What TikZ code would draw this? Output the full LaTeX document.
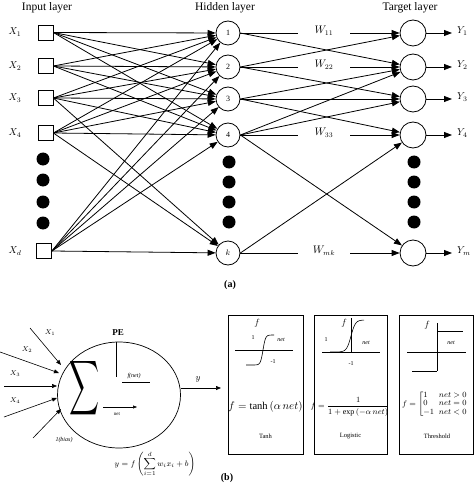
\documentclass[tikz,border=0pt]{standalone}
\usepackage{fontspec}
\setmainfont{Liberation Serif}
\usepackage{amsmath}
\usetikzlibrary{arrows.meta,shapes.geometric}
\begin{document}
\begin{tikzpicture}[x=1pt,y=-1pt,
  inbox/.style={draw, line width=0.8pt, minimum size=15pt, inner sep=0},
  hid/.style={draw, circle, line width=0.8pt, minimum size=24pt, inner sep=0, font=\fontsize{8}{8}\selectfont},
  tgt/.style={draw, circle, line width=0.8pt, minimum size=26pt, inner sep=0},
  conn/.style={line width=0.8pt, -{Triangle[length=8pt,width=6pt]}},
  sconn/.style={line width=0.6pt, -{Triangle[length=5pt,width=4pt]}},
  plain/.style={line width=0.8pt},
  title/.style={font=\fontsize{11.5}{12}\selectfont},
  wlab/.style={minimum width=52pt, inner sep=0, font=\fontsize{10.5}{10.5}\selectfont},
  dot/.style={fill=black},
  fbox/.style={draw, line width=0.9pt, minimum height=139pt, inner sep=0},
]
\useasboundingbox (0,0) rectangle (474,489);

% ---------- (a) ----------
\node[title] (tin) at (47,8) {Input layer};
\node[title] (thid) at (225,8) {Hidden layer};
\node[title] (ttgt) at (410,8) {Target layer};

\node[inbox] (x1) at (45.5,32.5) {};
\node[inbox] (x2) at (45.5,66) {};
\node[inbox] (x3) at (45.5,98) {};
\node[inbox] (x4) at (45.5,133) {};
\node[inbox] (xd) at (44,251) {};
\node (lx1) at (15,32) {$X_1$};
\node (lx2) at (15,66) {$X_2$};
\node (lx3) at (15,98) {$X_3$};
\node (lx4) at (15,133) {$X_4$};
\node (lxd) at (15,251) {$X_d$};

\foreach \yy in {159,180,202,223} \fill[dot] (43,\yy) ellipse (6.5 and 6.5);
\foreach \yy in {162,182,202,222} \fill[dot] (229,\yy) ellipse (6.5 and 6.5);
\foreach \yy in {162,182,202,222} \fill[dot] (414,\yy) ellipse (6.5 and 6.5);

\node[hid] (h1) at (228,33) {1};
\node[hid] (h2) at (228,67) {2};
\node[hid] (h3) at (228,99) {3};
\node[hid] (h4) at (228,135) {4};
\node[hid] (hk) at (228,253) {$k$};

\node[tgt] (t1) at (413,33) {};
\node[tgt] (t2) at (413,67) {};
\node[tgt] (t3) at (413,99) {};
\node[tgt] (t4) at (413,135) {};
\node[tgt] (tm) at (413,253) {};

% input -> hidden
\foreach \i in {x1,x2,x3,x4,xd}
  \foreach \j in {h1,h2,h3,h4}
    \draw[conn] (\i.east) -- (\j);
\foreach \i in {x3,x4,xd}
  \draw[conn] (\i.east) -- (hk);

% hidden -> target
\node[wlab] (w11) at (324,31) {$W_{11}$};
\node[wlab] (w22) at (324,65) {$W_{22}$};
\node[wlab] (w33) at (324,133) {$W_{33}$};
\node[wlab] (wmk) at (324,251) {$W_{mk}$};
\draw[plain] (h1) -- (h1 -| w11.west); \draw[conn] (t1 -| w11.east) -- (t1);
\draw[plain] (h2) -- (h2 -| w22.west); \draw[conn] (t2 -| w22.east) -- (t2);
\draw[plain] (h4) -- (h4 -| w33.west); \draw[conn] (t4 -| w33.east) -- (t4);
\draw[plain] (hk) -- (hk -| wmk.west); \draw[conn] (tm -| wmk.east) -- (tm);
\draw[conn] (h1.east) -- (t2);
\draw[conn] (h2.east) -- (t1);
\draw[conn] (h2.east) -- (t3);
\draw[conn] (h3.east) -- (t2);
\draw[conn] (h3.east) -- (t3);
\draw[conn] (h3.east) -- (t4);
\draw[conn] (h4.east) -- (t2);
\draw[conn] (h4.east) -- (t3);
\draw[conn] (h4.east) -- (tm);
\draw[conn] (hk.east) -- (t4);

% outputs
\foreach \t/\yy/\lab in {t1/33/1, t2/67/2, t3/99/3, t4/135/4, tm/253/m} {
  \coordinate (o\t) at (452,\yy);
  \draw[conn] (\t) -- (o\t);
  \node[anchor=west, inner sep=0, font=\fontsize{10}{10}\selectfont] (l\t) at (457,\yy-2) {$Y_{\lab}$};
}

\node[font=\bfseries\fontsize{10}{10}\selectfont] (la) at (230,285) {(a)};

% ---------- (b) ----------
\node[draw, ellipse, line width=0.7pt, minimum width=123pt, minimum height=106pt, inner sep=0] (pe) at (119,395) {};
\node[inner sep=0] (sig) at (85,388) {\resizebox{30pt}{40pt}{$\displaystyle\sum$}};
\node[font=\bfseries\fontsize{9}{9}\selectfont] (pel) at (118,333) {PE};
\coordinate (vt) at (116,342);
\coordinate (vb) at (116,377);
\draw[line width=0.6pt] (vt) -- (vb);
\node[font=\fontsize{6}{6}\selectfont\itshape] (fnet) at (134,376) {f(net)};
\coordinate (ul) at (122,382);
\coordinate (ur) at (150,382);
\draw[line width=0.5pt] (ul) -- (ur);
\coordinate (nl) at (103,407);
\coordinate (nr) at (137,407);
\draw[line width=0.5pt, -{Triangle[length=4pt,width=3pt]}] (nl) -- (nr);
\node[font=\fontsize{5}{5}\selectfont] (netl) at (117,414) {net};

\coordinate (b1s) at (30,328); \coordinate (b1e) at (61,365);
\coordinate (b2s) at (0,352);  \coordinate (b2e) at (59,373);
\coordinate (b3s) at (4,386);  \coordinate (b3e) at (57,386);
\coordinate (b4s) at (4,417);  \coordinate (b4e) at (57,398);
\coordinate (b5s) at (33,438); \coordinate (b5e) at (61,409);
\foreach \k in {1,...,5} \draw[sconn] (b\k s) -- (b\k e);
\node[font=\fontsize{7}{7}\selectfont] (bx1) at (50,333) {$X_1$};
\node[font=\fontsize{7}{7}\selectfont] (bx2) at (27,350) {$X_2$};
\node[font=\fontsize{7}{7}\selectfont] (bx3) at (15,374) {$X_3$};
\node[font=\fontsize{7}{7}\selectfont] (bx4) at (15,401) {$X_4$};
\node[font=\fontsize{6}{6}\selectfont\itshape] (bbias) at (64,440) {1(bias)};

\coordinate (yo) at (221,388);
\draw[sconn, line width=0.7pt] (pe.east |- yo) -- (yo);
\node[font=\fontsize{9}{9}\selectfont] (ylab) at (198,379) {$y$};

\node[font=\fontsize{8.5}{8.5}\selectfont, inner sep=0] (form) at (155,464) {$y=f\left(\displaystyle\sum_{i=1}^{d} w_i x_i + b\right)$};

\node[font=\bfseries\fontsize{10}{10}\selectfont] (lb) at (227,478) {(b)};

% boxes
\node[fbox, minimum width=75pt] (box1) at (265.5,384.5) {};
\node[fbox, minimum width=73pt] (box2) at (350.5,384.5) {};
\node[fbox, minimum width=74pt] (box3) at (436,384.5) {};

% tanh
\draw[line width=0.6pt] (235,350) -- (293,350);
\draw[line width=0.6pt] plot[domain=-17:11, samples=40, smooth] ({263+\x},{350-15*tanh(\x/2.5)});
\node[font=\fontsize{9}{9}\selectfont] (f1) at (257,323) {$f$};
\node[font=\fontsize{6}{6}\selectfont] (o1) at (253,338) {1};
\node[font=\fontsize{6}{6}\selectfont\itshape] (n1) at (281,340) {net};
\node[font=\fontsize{6}{6}\selectfont] (m1) at (273,362) {-1};
\node[font=\fontsize{10.5}{10.5}\selectfont] (ft) at (265.5,407) {$f=\tanh\left(\alpha\, net\right)$};
\node[font=\fontsize{6.5}{6.5}\selectfont] (tt) at (265.5,436) {Tanh};

% logistic
\draw[line width=0.6pt] (322,352) -- (380,352);
\draw[line width=0.6pt] (351,318) -- (351,352);
\draw[line width=0.6pt] plot[domain=330:364, samples=50, smooth] (\x,{352-32/(1+exp(-(\x-351)/2.2))});
\node[font=\fontsize{9}{9}\selectfont] (f2) at (344,323) {$f$};
\node[font=\fontsize{6}{6}\selectfont] (o2) at (326,340) {1};
\node[font=\fontsize{6}{6}\selectfont\itshape] (n2) at (366,343) {net};
\node[font=\fontsize{6}{6}\selectfont] (m2) at (351,364) {-1};
\node[font=\fontsize{8}{8}\selectfont] (fl) at (350,407) {$f=\dfrac{1}{1+\exp\left(-\alpha\, net\right)}$};
\node[font=\fontsize{6.5}{6.5}\selectfont] (tl) at (350.5,436) {Logistic};

% threshold
\draw[line width=0.6pt] (407,352) -- (466,352);
\draw[line width=0.6pt] (437,323) -- (437,371);
\draw[line width=0.6pt] (437,331) -- (463,331);
\draw[line width=0.6pt] (412,371) -- (437,371);
\node[font=\fontsize{9}{9}\selectfont] (f3) at (427,325) {$f$};
\node[font=\fontsize{6}{6}\selectfont\itshape] (n3) at (451,343) {net};
\node[font=\fontsize{8.5}{8.5}\selectfont] (fth) at (435,404) {$f=\left[\begin{array}{@{}l@{\;\;}l@{}}1 & net>0\\ 0 & net=0\\ -1 & net<0\end{array}\right.$};
\node[font=\fontsize{6.5}{6.5}\selectfont] (tth) at (437,436) {Threshold};
\end{tikzpicture}
\end{document}
